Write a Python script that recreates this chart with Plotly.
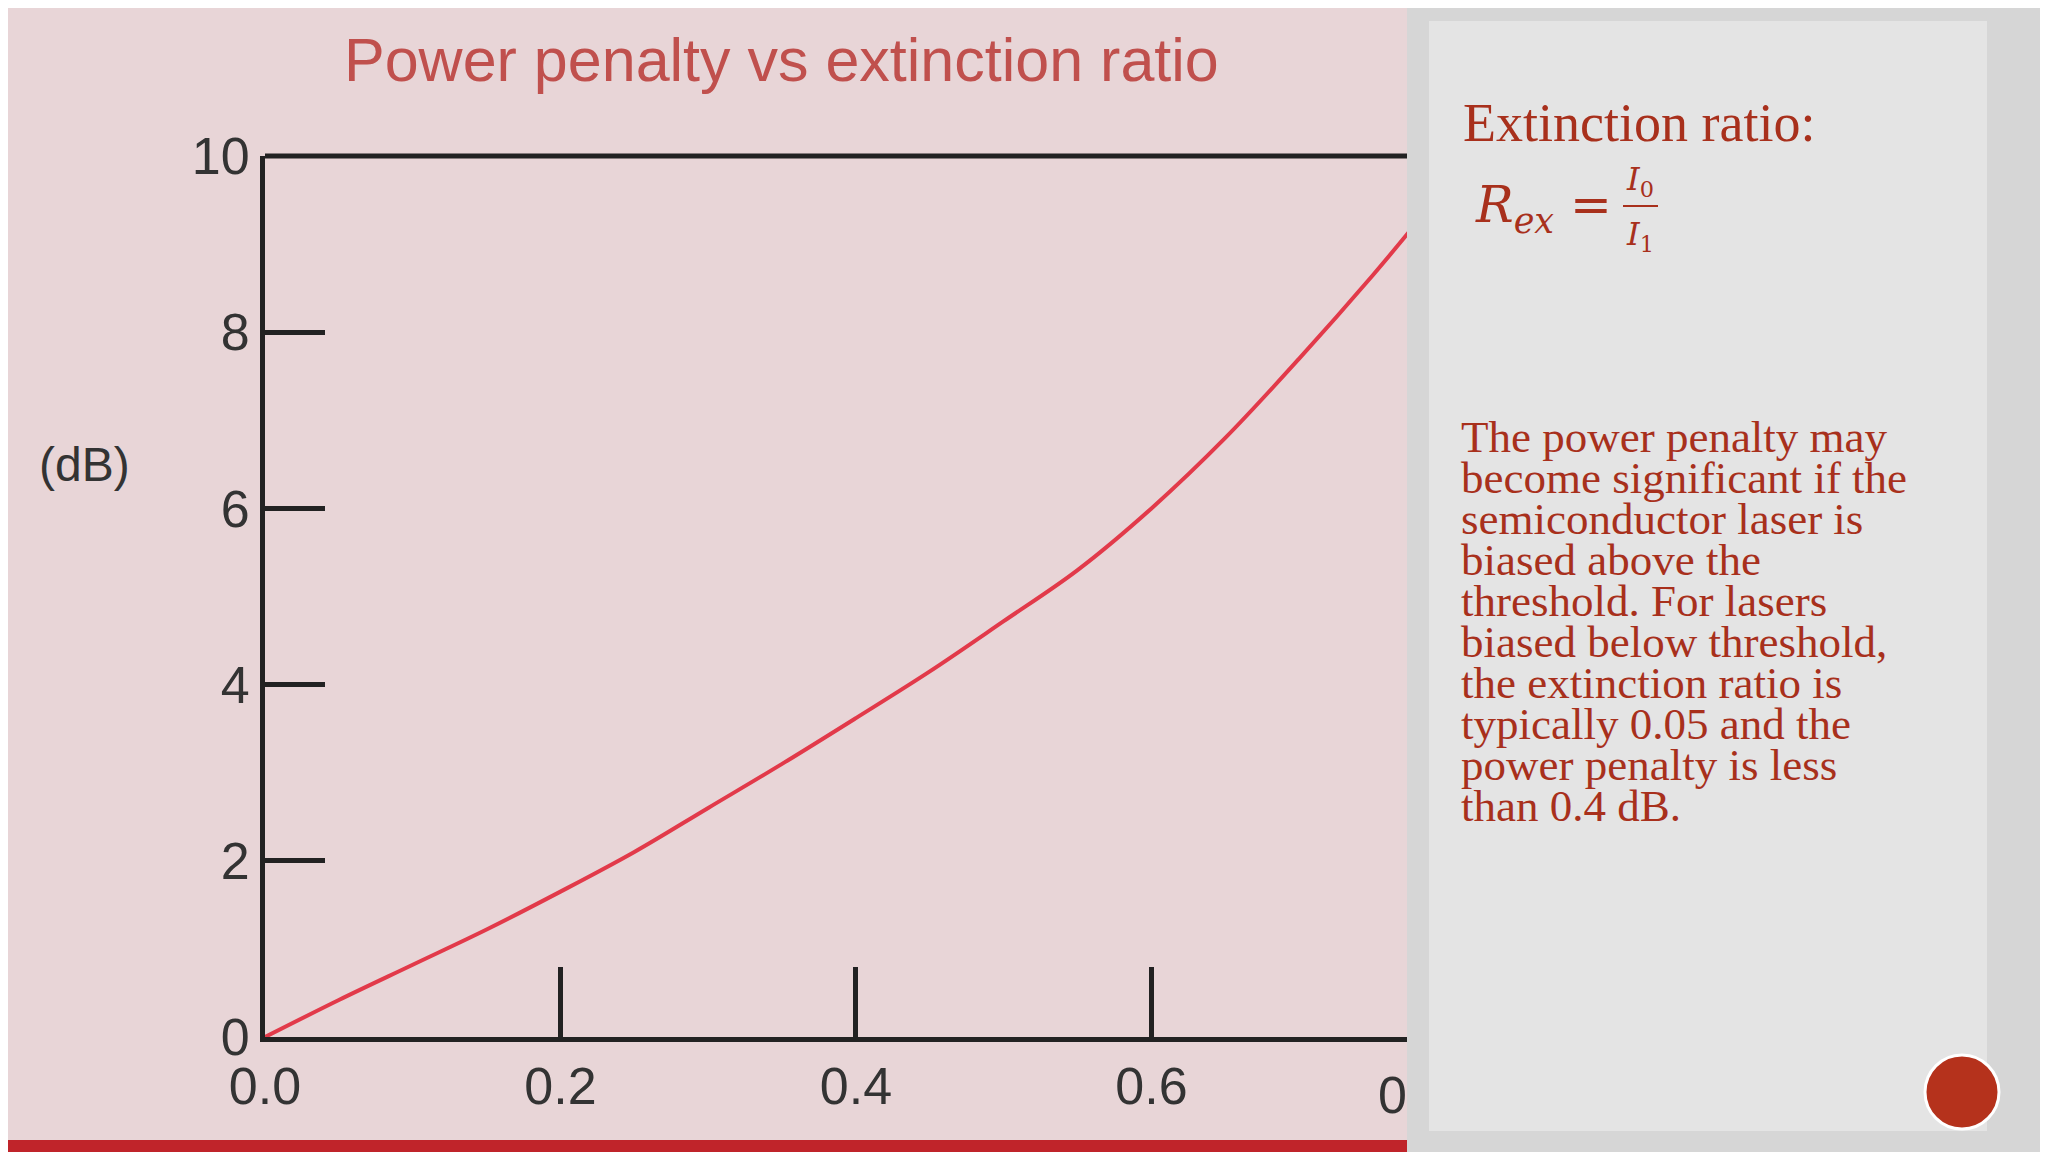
import plotly.graph_objects as go

ratio = [0.0, 0.05, 0.1, 0.15, 0.2, 0.25, 0.3, 0.35, 0.4, 0.45, 0.5, 0.55, 0.6, 0.65, 0.7, 0.75, 0.775]
penalty = [0.0, 0.42, 0.82, 1.22, 1.65, 2.1, 2.6, 3.1, 3.62, 4.15, 4.72, 5.3, 6.0, 6.8, 7.7, 8.65, 9.15]
xticks = [0.0, 0.2, 0.4, 0.6]
xticklabels = ["0.0", "0.2", "0.4", "0.6"]
yticks = [0, 2, 4, 6, 8, 10]
para = ["The power penalty may", "become significant if the", "semiconductor laser is",
        "biased above the", "threshold. For lasers", "biased below threshold,",
        "the extinction ratio is", "typically 0.05 and the", "power penalty is less",
        "than 0.4 dB."]

W, H = 2048, 1152
red = "#a8301c"
fig = go.Figure()
fig.add_trace(go.Scatter(x=ratio, y=penalty, mode="lines", line_shape="spline",
                         line=dict(color="#e23a4a", width=4), showlegend=False))

def py(y): return 1 - y / H

fig.update_layout(
    width=W, height=H, margin=dict(l=0, r=0, t=0, b=0, autoexpand=False),
    paper_bgcolor="#e8d5d7", plot_bgcolor="rgba(0,0,0,0)",
    xaxis=dict(domain=[257/W, 1399/W], range=[0, 0.773], tickvals=xticks, ticktext=xticklabels,
               ticks="inside", ticklen=70, tickwidth=5, tickcolor="#222", showgrid=False,
               zeroline=False, showline=True, linecolor="#222", linewidth=5, automargin=False,
               tickfont=dict(family="Liberation Sans", size=52, color="#333")),
    yaxis=dict(domain=[py(1029), py(148)], range=[0, 10], tickvals=yticks,
               ticks="inside", ticklen=60, tickwidth=5, tickcolor="#222", showgrid=False,
               zeroline=False, showline=True, linecolor="#222", linewidth=5, automargin=False,
               tickfont=dict(family="Liberation Sans", size=52, color="#333")),
    font=dict(family="Liberation Sans"),
)

shapes = [
    dict(type="line", xref="paper", yref="paper", x0=257/W, x1=1399/W, y0=py(148), y1=py(148),
         line=dict(color="#222", width=5)),
    dict(type="rect", xref="paper", yref="paper", x0=1399/W, x1=1, y0=0, y1=1,
         fillcolor="#d6d6d6", line_width=0, layer="below"),
    dict(type="rect", xref="paper", yref="paper", x0=1421/W, x1=1979/W, y0=py(1123), y1=py(13),
         fillcolor="#e4e4e4", line_width=0, layer="below"),
    dict(type="rect", xref="paper", yref="paper", x0=0, x1=1399/W, y0=0, y1=20/H,
         fillcolor="#c0242a", line_width=0),
    dict(type="circle", xref="paper", yref="paper", x0=1917/W, x1=1991/W, y0=py(1121), y1=py(1047),
         fillcolor="#b5321c", line=dict(color="white", width=3)),
    dict(type="line", xref="paper", yref="paper", x0=1615/W, x1=1650/W, y0=py(198), y1=py(198),
         line=dict(color=red, width=2)),
]
fig.update_layout(shapes=shapes)

ann = [
    dict(x=773/W, y=py(52), text="Power penalty vs extinction ratio", xanchor="center",
         font=dict(size=61, color="#c0504d", family="Liberation Sans")),
    dict(x=76/W, y=py(457), text="(dB)", xanchor="center",
         font=dict(size=48, color="#333", family="Liberation Sans")),
    dict(x=1384/W, y=py(1087), text="0", xanchor="center",
         font=dict(size=52, color="#333", family="Liberation Sans")),
    dict(x=1453/W, y=py(115), text="Extinction ratio:", xanchor="left",
         font=dict(size=54, color=red, family="Liberation Serif")),
    dict(x=1465/W, y=py(200), text="<i>R<sub>ex</sub></i> =", xanchor="left",
         font=dict(size=50, color=red, family="DejaVu Serif")),
    dict(x=1632/W, y=py(173), text="<i>I</i><sub>0</sub>", xanchor="center",
         font=dict(size=32, color=red, family="DejaVu Serif")),
    dict(x=1632/W, y=py(228), text="<i>I</i><sub>1</sub>", xanchor="center",
         font=dict(size=32, color=red, family="DejaVu Serif")),
]
for i, line in enumerate(para):
    ann.append(dict(x=1451/W, y=py(429 + i * 41), text=line, xanchor="left",
                    font=dict(size=45, color=red, family="Liberation Serif")))
for a in ann:
    a.update(xref="paper", yref="paper", showarrow=False, yanchor="middle")
fig.update_layout(annotations=ann)

fig.write_html("out.html")
